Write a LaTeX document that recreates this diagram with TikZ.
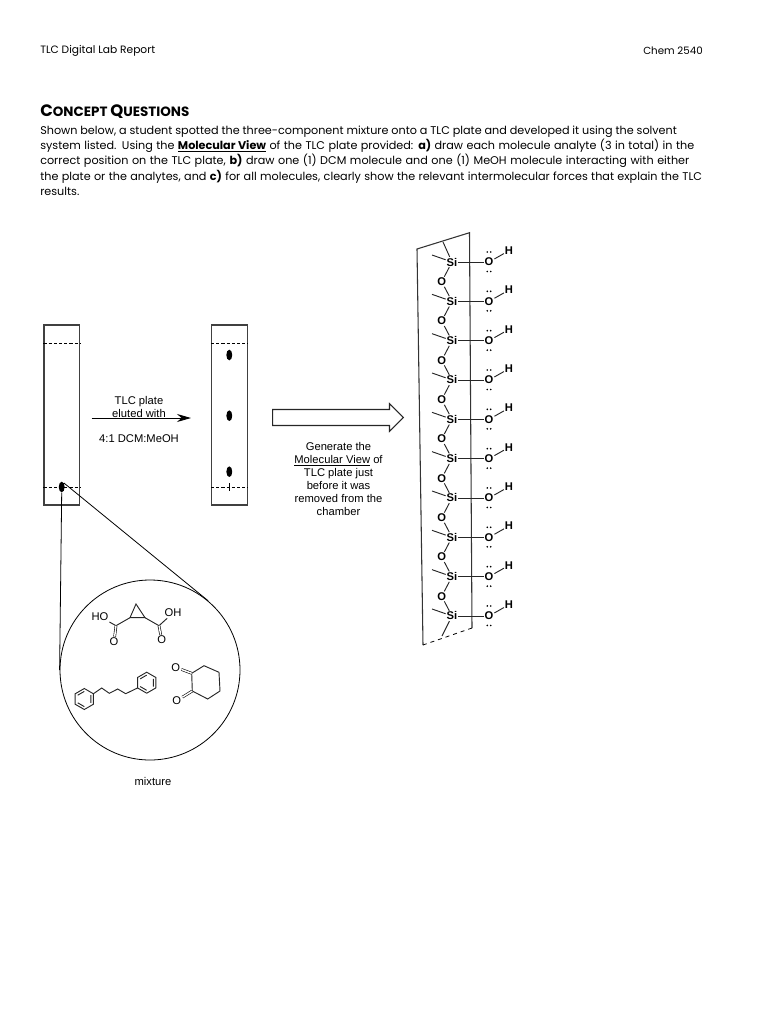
\documentclass[tikz,border=0pt]{standalone}
\usepackage{fontspec}
\setmainfont{Poppins}
\newfontfamily\labelfont{Liberation Sans}
\usetikzlibrary{shapes.geometric, shapes.arrows, arrows.meta, positioning, calc}
\tikzstyle{plate} = [rectangle, minimum width=26.6pt, minimum height=135pt, draw=black!75, line width=0.8pt, inner sep=0pt]
\tikzstyle{spot} = [ellipse, fill=black, minimum width=4.4pt, minimum height=8pt, inner sep=0pt]
\tikzstyle{front} = [dashed, dash pattern=on 2.4pt off 1.5pt, line width=0.55pt]
\tikzstyle{atom} = [font=\labelfont\bfseries\fontsize{8.4}{8.4}\selectfont, inner sep=0.6pt]
\tikzstyle{smallatom} = [font=\labelfont\fontsize{8.4}{8.4}\selectfont, inner sep=0.8pt]
\tikzstyle{caption} = [font=\labelfont\fontsize{8.4}{9.8}\selectfont, align=center, inner sep=0pt]
\tikzstyle{bond} = [line width=0.7pt, draw=black!85]
\tikzstyle{dblbond} = [double, double distance=1.1pt, line width=0.45pt]
\tikzstyle{page} = [font=\fontsize{8.4}{11.45}\selectfont, inner sep=0pt, align=left]
\newcommand{\fitline}[2]{\makebox[#1][s]{#2}}

\begin{document}
\begin{tikzpicture}[x=0.75pt, y=-0.75pt]
    \useasboundingbox (0,0) rectangle (769,1024);

    % Page text
    \node (head) [page, font=\fontsize{8}{11}\selectfont, anchor=west] at (40,50.5) {TLC Digital Lab Report};
    \node (course) [page, font=\fontsize{7.7}{11}\selectfont, anchor=east] at (703,50.5) {Chem 2540};
    \node (title) [page, anchor=west] at (40,112) {\textbf{\fontsize{12.4}{13}\selectfont C\fontsize{10.1}{13}\selectfont ONCEPT \fontsize{12.4}{13}\selectfont Q\fontsize{10.1}{13}\selectfont UESTIONS}};
    \node (body) [page, anchor=north west] at (40,125.6) {\fitline{477.5pt}{Shown below, a student spotted the three-component mixture onto a TLC plate and developed it using the solvent}\\
        \fitline{490.5pt}{system listed. Using the \underline{\textbf{Molecular View}} of the TLC plate provided: \textbf{a)} draw each molecule analyte (3 in total) in the}\\
        \fitline{486.8pt}{correct position on the TLC plate, \textbf{b)} draw one (1) DCM molecule and one (1) MeOH molecule interacting with either}\\
        \fitline{496.3pt}{the plate or the analytes, and \textbf{c)} for all molecules, clearly show the relevant intermolecular forces that explain the TLC}\\
        results.};

    % Place plates
    \node (plateA) [plate] at (61.7,415) {};
    \node (plateB) [plate, right of=plateA, node distance=125.7pt] {};
    \node (spotA) [spot] at (61.7,487) {};
    \node (spotB) [spot] at (229.3,355) {};
    \node (spotC) [spot] at (229.3,415.7) {};
    \node (spotD) [spot] at (229.3,471.7) {};
    \draw [front] (plateA.west |- 0,343.3) -- (plateA.east |- 0,343.3);
    \draw [front] (plateA.west |- 0,487) -- (plateA.east |- 0,487);
    \draw [front] (plateB.west |- 0,343.3) -- (plateB.east |- 0,343.3);
    \draw [front] (plateB.west |- 0,487) -- (plateB.east |- 0,487);
    \draw [line width=0.5pt] (229.3,483) -- (229.3,491);

    % Elution labels and arrows
    \coordinate (elutestart) at (91.7,418);
    \coordinate (eluteend) at (191,418);
    \draw [line width=0.7pt, -{Stealth[length=10.5pt, width=6pt]}] (elutestart) -- (eluteend);
    \node (elute) [caption] at (139,407) {TLC plate\\eluted with};
    \node (solvent) [caption] at (139,439) {4:1 DCM:MeOH};
    \node (bigarrow) [single arrow, draw=black!85, line width=0.8pt, inner sep=5.6pt, minimum height=98pt, minimum width=20pt, single arrow head extend=4.4pt] at (334,417.5) {};
    \node (generate) [caption] at (338.5,479) {Generate the\\\underline{Molecular View} of\\TLC plate just\\before it was\\removed from the\\chamber};

    % Zoom circle
    \node (zoomview) [circle, draw=black, line width=0.6pt, minimum size=135pt, inner sep=0pt] at (150,670) {};
    \draw [line width=0.6pt] (spotA.south) -- (zoomview.west);
    \draw [line width=0.6pt] (spotA.north east) -- (zoomview.50);
    \node (mixture) [caption] at (153,781) {mixture};

    % Cyclopropane diacid
    \coordinate (cpa) at (136,604);
    \coordinate (cpb) at (130,617.7);
    \coordinate (cpc) at (145,617.7);
    \coordinate (cla) at (116,625.7);
    \coordinate (clb) at (159,625.7);
    \node (hoa) [smallatom] at (100,616.7) {HO};
    \node (oha) [smallatom] at (173,613) {OH};
    \node (oa) [smallatom] at (114,642) {O};
    \node (ob) [smallatom] at (161.7,640) {O};
    \draw [bond] (cpa) -- (cpb) -- (cpc) -- cycle;
    \draw [bond] (cpb) -- (cla) -- (hoa);
    \draw [bond] (cpc) -- (clb) -- (oha);
    \draw [dblbond] (cla) -- (oa);
    \draw [dblbond] (clb) -- (ob);

    % Phenyl rings and chain
    \foreach \ring/\cx/\cy in {ra/84.3/699, rb/146.7/682.7} {
        \foreach \k in {1,...,6} {
            \coordinate (\ring\k) at ({\cx+10.5*cos(30+60*\k)},{\cy-10.5*sin(30+60*\k)});
            \coordinate (\ring i\k) at ({\cx+7.6*cos(30+60*\k)},{\cy-7.6*sin(30+60*\k)});
        }
        \draw [bond] (\ring1) -- (\ring2) -- (\ring3) -- (\ring4) -- (\ring5) -- (\ring6) -- cycle;
        \draw [bond] (\ring i1) -- (\ring i2) (\ring i3) -- (\ring i4) (\ring i5) -- (\ring i6);
    }
    \coordinate (cha) at (101.7,688);
    \coordinate (chb) at (109.3,693.3);
    \coordinate (chc) at (117.7,689);
    \coordinate (chd) at (125.7,693.7);
    \draw [bond] (ra6) -- (cha) -- (chb) -- (chc) -- (chd) -- (rb3);

    % Cyclohexanedione
    \coordinate (cya) at (191.7,673.3);
    \coordinate (cyb) at (204,665.7);
    \coordinate (cyc) at (219,672.3);
    \coordinate (cyd) at (220,691);
    \coordinate (cye) at (207.7,699);
    \coordinate (cyf) at (192.3,691);
    \node (oc) [smallatom] at (175.7,667.3) {O};
    \node (od) [smallatom] at (176.7,700.7) {O};
    \draw [bond] (cya) -- (cyb) -- (cyc) -- (cyd) -- (cye) -- (cyf) -- cycle;
    \draw [dblbond] (cya) -- (oc);
    \draw [dblbond] (cyf) -- (od);

    % Silica surface
    \coordinate (pnw) at (417,249);
    \coordinate (pne) at (469.5,232.7);
    \coordinate (pse) at (472,628);
    \coordinate (psw) at (423,645);
    \draw [line width=0.8pt, draw=black!80] (psw) -- (pnw) -- (pne) -- (pse);
    \draw [dashed, line width=0.6pt] (pse) -- (psw);
    \foreach \i in {0,...,9} {
        \pgfmathsetmacro{\ysi}{262+39.33*\i}
        \node (si\i) [atom] at (452,\ysi) {Si};
        \node (oh\i) [atom] at (489,\ysi) {O};
        \node (h\i) [atom] at (509,\ysi-11.3) {H};
        \coordinate (me\i) at (432,\ysi-7);
        \draw [bond] (me\i) -- (si\i);
        \draw [bond] (si\i) -- (oh\i);
        \draw [bond] (oh\i) -- (h\i);
        \foreach \dx in {-1.7,1.7} {
            \fill ($(oh\i)+(\dx,-10)$) circle (0.7pt);
            \fill ($(oh\i)+(\dx,9.5)$) circle (0.7pt);
        }
    }
    \foreach \i [evaluate=\i as \j using int(\i+1)] in {0,...,8} {
        \pgfmathsetmacro{\yo}{281.7+39.33*\i}
        \node (o\i) [atom] at (441.7,\yo) {O};
        \draw [bond] (si\i) -- (o\i);
        \draw [bond] (o\i) -- (si\j);
    }
    \coordinate (topend) at (443,242);
    \coordinate (botend) at (442,636);
    \draw [bond] (topend) -- (si0);
    \draw [bond] (si9) -- (botend);
\end{tikzpicture}
\end{document}
